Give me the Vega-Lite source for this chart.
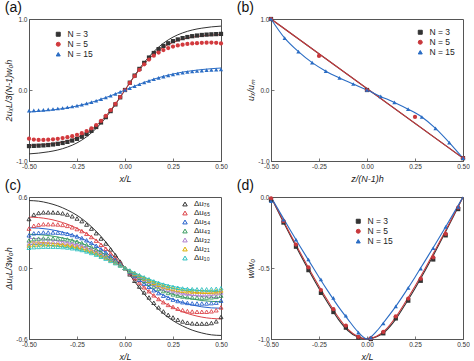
{
"$schema":"https://vega.github.io/schema/vega-lite/v6.json",
"padding":{"left":4,"top":0,"right":0,"bottom":0},
"background":"white",
"config":{
 "font":"Liberation Sans",
 "view":{"stroke":"#555","strokeWidth":1},
 "axis":{"grid":false,"domainColor":"#555","domainWidth":1,"tickColor":"#555","tickSize":-3,"tickWidth":0.8,"labelFontSize":6.5,"labelColor":"#333","labelPadding":5,"labelFlush":false,"labelOverlap":false,"titleFontSize":9,"titleFontStyle":"italic","titleFontWeight":"normal","titleColor":"#222"},
 "axisX":{"titlePadding":5},
 "axisY":{"titlePadding":2},
 "legend":{"labelFontSize":8.5,"labelFontWeight":"normal","labelColor":"#222","symbolSize":16,"rowPadding":1,"labelOffset":5,"padding":0,"symbolStrokeWidth":1},
 "title":{"fontSize":14,"fontWeight":"normal","anchor":"start","frame":"bounds","offset":1,"color":"#111"}
},
"bounds":"flush",
"columns":2,
"spacing":{"row":36,"column":50},
"resolve":{"scale":{"color":"independent","shape":"independent"},"legend":{"color":"independent","shape":"independent"}},
"datasets":{
"aM":[
{"s":"N = 3","x":-0.5,"y":-0.79},{"s":"N = 3","x":-0.475,"y":-0.787},{"s":"N = 3","x":-0.45,"y":-0.784},{"s":"N = 3","x":-0.425,"y":-0.78},{"s":"N = 3","x":-0.4,"y":-0.775},{"s":"N = 3","x":-0.375,"y":-0.767},{"s":"N = 3","x":-0.35,"y":-0.758},{"s":"N = 3","x":-0.325,"y":-0.746},{"s":"N = 3","x":-0.3,"y":-0.731},{"s":"N = 3","x":-0.275,"y":-0.712},{"s":"N = 3","x":-0.25,"y":-0.688},{"s":"N = 3","x":-0.225,"y":-0.658},{"s":"N = 3","x":-0.2,"y":-0.621},{"s":"N = 3","x":-0.175,"y":-0.576},{"s":"N = 3","x":-0.15,"y":-0.521},{"s":"N = 3","x":-0.125,"y":-0.457},{"s":"N = 3","x":-0.1,"y":-0.382},{"s":"N = 3","x":-0.075,"y":-0.297},{"s":"N = 3","x":-0.05,"y":-0.203},{"s":"N = 3","x":-0.025,"y":-0.103},{"s":"N = 3","x":0,"y":0},{"s":"N = 3","x":0.025,"y":0.103},{"s":"N = 3","x":0.05,"y":0.203},{"s":"N = 3","x":0.075,"y":0.297},{"s":"N = 3","x":0.1,"y":0.382},{"s":"N = 3","x":0.125,"y":0.457},{"s":"N = 3","x":0.15,"y":0.521},{"s":"N = 3","x":0.175,"y":0.576},{"s":"N = 3","x":0.2,"y":0.621},{"s":"N = 3","x":0.225,"y":0.658},{"s":"N = 3","x":0.25,"y":0.688},{"s":"N = 3","x":0.275,"y":0.712},{"s":"N = 3","x":0.3,"y":0.731},{"s":"N = 3","x":0.325,"y":0.746},{"s":"N = 3","x":0.35,"y":0.758},{"s":"N = 3","x":0.375,"y":0.767},{"s":"N = 3","x":0.4,"y":0.775},{"s":"N = 3","x":0.425,"y":0.78},{"s":"N = 3","x":0.45,"y":0.784},{"s":"N = 3","x":0.475,"y":0.787},{"s":"N = 3","x":0.5,"y":0.79},
{"s":"N = 5","x":-0.5,"y":-0.685},{"s":"N = 5","x":-0.475,"y":-0.698},{"s":"N = 5","x":-0.45,"y":-0.703},{"s":"N = 5","x":-0.425,"y":-0.703},{"s":"N = 5","x":-0.4,"y":-0.7},{"s":"N = 5","x":-0.375,"y":-0.695},{"s":"N = 5","x":-0.35,"y":-0.687},{"s":"N = 5","x":-0.325,"y":-0.677},{"s":"N = 5","x":-0.3,"y":-0.665},{"s":"N = 5","x":-0.275,"y":-0.65},{"s":"N = 5","x":-0.25,"y":-0.632},{"s":"N = 5","x":-0.225,"y":-0.608},{"s":"N = 5","x":-0.2,"y":-0.578},{"s":"N = 5","x":-0.175,"y":-0.54},{"s":"N = 5","x":-0.15,"y":-0.493},{"s":"N = 5","x":-0.125,"y":-0.435},{"s":"N = 5","x":-0.1,"y":-0.365},{"s":"N = 5","x":-0.075,"y":-0.285},{"s":"N = 5","x":-0.05,"y":-0.197},{"s":"N = 5","x":-0.025,"y":-0.1},{"s":"N = 5","x":0,"y":0},{"s":"N = 5","x":0.025,"y":0.1},{"s":"N = 5","x":0.05,"y":0.197},{"s":"N = 5","x":0.075,"y":0.285},{"s":"N = 5","x":0.1,"y":0.362},{"s":"N = 5","x":0.125,"y":0.429},{"s":"N = 5","x":0.15,"y":0.483},{"s":"N = 5","x":0.175,"y":0.528},{"s":"N = 5","x":0.2,"y":0.563},{"s":"N = 5","x":0.225,"y":0.59},{"s":"N = 5","x":0.25,"y":0.611},{"s":"N = 5","x":0.275,"y":0.627},{"s":"N = 5","x":0.3,"y":0.639},{"s":"N = 5","x":0.325,"y":0.648},{"s":"N = 5","x":0.35,"y":0.655},{"s":"N = 5","x":0.375,"y":0.66},{"s":"N = 5","x":0.4,"y":0.664},{"s":"N = 5","x":0.425,"y":0.667},{"s":"N = 5","x":0.45,"y":0.668},{"s":"N = 5","x":0.475,"y":0.664},{"s":"N = 5","x":0.5,"y":0.655},
{"s":"N = 15","x":-0.5,"y":-0.29},{"s":"N = 15","x":-0.475,"y":-0.287},{"s":"N = 15","x":-0.45,"y":-0.283},{"s":"N = 15","x":-0.425,"y":-0.279},{"s":"N = 15","x":-0.4,"y":-0.274},{"s":"N = 15","x":-0.375,"y":-0.268},{"s":"N = 15","x":-0.35,"y":-0.261},{"s":"N = 15","x":-0.325,"y":-0.253},{"s":"N = 15","x":-0.3,"y":-0.243},{"s":"N = 15","x":-0.275,"y":-0.232},{"s":"N = 15","x":-0.25,"y":-0.219},{"s":"N = 15","x":-0.225,"y":-0.205},{"s":"N = 15","x":-0.2,"y":-0.189},{"s":"N = 15","x":-0.175,"y":-0.171},{"s":"N = 15","x":-0.15,"y":-0.151},{"s":"N = 15","x":-0.125,"y":-0.129},{"s":"N = 15","x":-0.1,"y":-0.106},{"s":"N = 15","x":-0.075,"y":-0.081},{"s":"N = 15","x":-0.05,"y":-0.0545},{"s":"N = 15","x":-0.025,"y":-0.0275},{"s":"N = 15","x":0,"y":0},{"s":"N = 15","x":0.025,"y":0.0275},{"s":"N = 15","x":0.05,"y":0.0545},{"s":"N = 15","x":0.075,"y":0.081},{"s":"N = 15","x":0.1,"y":0.106},{"s":"N = 15","x":0.125,"y":0.129},{"s":"N = 15","x":0.15,"y":0.151},{"s":"N = 15","x":0.175,"y":0.171},{"s":"N = 15","x":0.2,"y":0.189},{"s":"N = 15","x":0.225,"y":0.205},{"s":"N = 15","x":0.25,"y":0.219},{"s":"N = 15","x":0.275,"y":0.232},{"s":"N = 15","x":0.3,"y":0.243},{"s":"N = 15","x":0.325,"y":0.253},{"s":"N = 15","x":0.35,"y":0.261},{"s":"N = 15","x":0.375,"y":0.268},{"s":"N = 15","x":0.4,"y":0.274},{"s":"N = 15","x":0.425,"y":0.279},{"s":"N = 15","x":0.45,"y":0.283},{"s":"N = 15","x":0.475,"y":0.287},{"s":"N = 15","x":0.5,"y":0.29}
],
"aL":[
{"s":"N = 3","x":-0.5,"y":-0.9},{"s":"N = 3","x":-0.45,"y":-0.889},{"s":"N = 3","x":-0.4,"y":-0.871},{"s":"N = 3","x":-0.35,"y":-0.845},{"s":"N = 3","x":-0.3,"y":-0.804},{"s":"N = 3","x":-0.25,"y":-0.745},{"s":"N = 3","x":-0.2,"y":-0.659},{"s":"N = 3","x":-0.15,"y":-0.541},{"s":"N = 3","x":-0.1,"y":-0.388},{"s":"N = 3","x":-0.05,"y":-0.204},{"s":"N = 3","x":0,"y":0},{"s":"N = 3","x":0.05,"y":0.204},{"s":"N = 3","x":0.1,"y":0.388},{"s":"N = 3","x":0.15,"y":0.541},{"s":"N = 3","x":0.2,"y":0.659},{"s":"N = 3","x":0.25,"y":0.745},{"s":"N = 3","x":0.3,"y":0.804},{"s":"N = 3","x":0.35,"y":0.845},{"s":"N = 3","x":0.4,"y":0.871},{"s":"N = 3","x":0.45,"y":0.889},{"s":"N = 3","x":0.5,"y":0.9},
{"s":"N = 5","x":-0.5,"y":-0.78},{"s":"N = 5","x":-0.45,"y":-0.773},{"s":"N = 5","x":-0.4,"y":-0.762},{"s":"N = 5","x":-0.35,"y":-0.744},{"s":"N = 5","x":-0.3,"y":-0.716},{"s":"N = 5","x":-0.25,"y":-0.671},{"s":"N = 5","x":-0.2,"y":-0.602},{"s":"N = 5","x":-0.15,"y":-0.502},{"s":"N = 5","x":-0.1,"y":-0.365},{"s":"N = 5","x":-0.05,"y":-0.194},{"s":"N = 5","x":0,"y":0},{"s":"N = 5","x":0.05,"y":0.194},{"s":"N = 5","x":0.1,"y":0.365},{"s":"N = 5","x":0.15,"y":0.502},{"s":"N = 5","x":0.2,"y":0.602},{"s":"N = 5","x":0.25,"y":0.671},{"s":"N = 5","x":0.3,"y":0.716},{"s":"N = 5","x":0.35,"y":0.744},{"s":"N = 5","x":0.4,"y":0.762},{"s":"N = 5","x":0.45,"y":0.773},{"s":"N = 5","x":0.5,"y":0.78},
{"s":"N = 15","x":-0.5,"y":-0.31},{"s":"N = 15","x":-0.45,"y":-0.3},{"s":"N = 15","x":-0.4,"y":-0.288},{"s":"N = 15","x":-0.35,"y":-0.272},{"s":"N = 15","x":-0.3,"y":-0.252},{"s":"N = 15","x":-0.25,"y":-0.225},{"s":"N = 15","x":-0.2,"y":-0.193},{"s":"N = 15","x":-0.15,"y":-0.153},{"s":"N = 15","x":-0.1,"y":-0.107},{"s":"N = 15","x":-0.05,"y":-0.055},{"s":"N = 15","x":0,"y":0},{"s":"N = 15","x":0.05,"y":0.055},{"s":"N = 15","x":0.1,"y":0.107},{"s":"N = 15","x":0.15,"y":0.153},{"s":"N = 15","x":0.2,"y":0.193},{"s":"N = 15","x":0.25,"y":0.225},{"s":"N = 15","x":0.3,"y":0.252},{"s":"N = 15","x":0.35,"y":0.272},{"s":"N = 15","x":0.4,"y":0.288},{"s":"N = 15","x":0.45,"y":0.3},{"s":"N = 15","x":0.5,"y":0.31}
],
"bM":[
{"s":"N = 3","x":-0.5,"y":1},{"s":"N = 3","x":0,"y":0},{"s":"N = 3","x":0.5,"y":-0.96},
{"s":"N = 5","x":-0.5,"y":1},{"s":"N = 5","x":-0.25,"y":0.48},{"s":"N = 5","x":0,"y":0},{"s":"N = 5","x":0.25,"y":-0.38},{"s":"N = 5","x":0.5,"y":-0.96},
{"s":"N = 15","x":-0.5,"y":1},{"s":"N = 15","x":-0.4286,"y":0.73},{"s":"N = 15","x":-0.3571,"y":0.54},{"s":"N = 15","x":-0.2857,"y":0.385},{"s":"N = 15","x":-0.2143,"y":0.265},{"s":"N = 15","x":-0.1429,"y":0.17},{"s":"N = 15","x":-0.0714,"y":0.085},{"s":"N = 15","x":0,"y":0},{"s":"N = 15","x":0.0714,"y":-0.09},{"s":"N = 15","x":0.1429,"y":-0.175},{"s":"N = 15","x":0.2143,"y":-0.27},{"s":"N = 15","x":0.2857,"y":-0.38},{"s":"N = 15","x":0.3571,"y":-0.54},{"s":"N = 15","x":0.4286,"y":-0.74},{"s":"N = 15","x":0.5,"y":-0.96}
],
"bL":[
{"s":"N = 3","x":-0.5,"y":1},{"s":"N = 3","x":0.5,"y":-0.96},
{"s":"N = 5","x":-0.5,"y":1},{"s":"N = 5","x":0.5,"y":-0.96},
{"s":"N = 15","x":-0.5,"y":1},{"s":"N = 15","x":-0.4286,"y":0.73},{"s":"N = 15","x":-0.3571,"y":0.54},{"s":"N = 15","x":-0.2857,"y":0.385},{"s":"N = 15","x":-0.2143,"y":0.265},{"s":"N = 15","x":-0.1429,"y":0.17},{"s":"N = 15","x":-0.0714,"y":0.085},{"s":"N = 15","x":0,"y":0},{"s":"N = 15","x":0.0714,"y":-0.09},{"s":"N = 15","x":0.1429,"y":-0.175},{"s":"N = 15","x":0.2143,"y":-0.27},{"s":"N = 15","x":0.2857,"y":-0.38},{"s":"N = 15","x":0.3571,"y":-0.54},{"s":"N = 15","x":0.4286,"y":-0.74},{"s":"N = 15","x":0.5,"y":-0.96}
],
"cM":[
{"s":"Δu₇₆","x":-0.5,"y":0.414},{"s":"Δu₇₆","x":-0.475,"y":0.451},{"s":"Δu₇₆","x":-0.45,"y":0.465},{"s":"Δu₇₆","x":-0.425,"y":0.47},{"s":"Δu₇₆","x":-0.4,"y":0.47},{"s":"Δu₇₆","x":-0.375,"y":0.47},{"s":"Δu₇₆","x":-0.35,"y":0.468},{"s":"Δu₇₆","x":-0.325,"y":0.462},{"s":"Δu₇₆","x":-0.3,"y":0.452},{"s":"Δu₇₆","x":-0.275,"y":0.437},{"s":"Δu₇₆","x":-0.25,"y":0.418},{"s":"Δu₇₆","x":-0.225,"y":0.396},{"s":"Δu₇₆","x":-0.2,"y":0.367},{"s":"Δu₇₆","x":-0.175,"y":0.333},{"s":"Δu₇₆","x":-0.15,"y":0.294},{"s":"Δu₇₆","x":-0.125,"y":0.249},{"s":"Δu₇₆","x":-0.1,"y":0.207},{"s":"Δu₇₆","x":-0.075,"y":0.157},{"s":"Δu₇₆","x":-0.05,"y":0.108},{"s":"Δu₇₆","x":-0.025,"y":0.054},{"s":"Δu₇₆","x":0,"y":0},{"s":"Δu₇₆","x":0.025,"y":-0.054},{"s":"Δu₇₆","x":0.05,"y":-0.108},{"s":"Δu₇₆","x":0.075,"y":-0.157},{"s":"Δu₇₆","x":0.1,"y":-0.207},{"s":"Δu₇₆","x":0.125,"y":-0.249},{"s":"Δu₇₆","x":0.15,"y":-0.294},{"s":"Δu₇₆","x":0.175,"y":-0.333},{"s":"Δu₇₆","x":0.2,"y":-0.367},{"s":"Δu₇₆","x":0.225,"y":-0.396},{"s":"Δu₇₆","x":0.25,"y":-0.418},{"s":"Δu₇₆","x":0.275,"y":-0.437},{"s":"Δu₇₆","x":0.3,"y":-0.452},{"s":"Δu₇₆","x":0.325,"y":-0.462},{"s":"Δu₇₆","x":0.35,"y":-0.468},{"s":"Δu₇₆","x":0.375,"y":-0.47},{"s":"Δu₇₆","x":0.4,"y":-0.47},{"s":"Δu₇₆","x":0.425,"y":-0.47},{"s":"Δu₇₆","x":0.45,"y":-0.465},{"s":"Δu₇₆","x":0.475,"y":-0.451},{"s":"Δu₇₆","x":0.5,"y":-0.414},
{"s":"Δu₆₅","x":-0.5,"y":0.333},{"s":"Δu₆₅","x":-0.475,"y":0.357},{"s":"Δu₆₅","x":-0.45,"y":0.366},{"s":"Δu₆₅","x":-0.425,"y":0.37},{"s":"Δu₆₅","x":-0.4,"y":0.37},{"s":"Δu₆₅","x":-0.375,"y":0.37},{"s":"Δu₆₅","x":-0.35,"y":0.368},{"s":"Δu₆₅","x":-0.325,"y":0.364},{"s":"Δu₆₅","x":-0.3,"y":0.356},{"s":"Δu₆₅","x":-0.275,"y":0.344},{"s":"Δu₆₅","x":-0.25,"y":0.329},{"s":"Δu₆₅","x":-0.225,"y":0.312},{"s":"Δu₆₅","x":-0.2,"y":0.289},{"s":"Δu₆₅","x":-0.175,"y":0.262},{"s":"Δu₆₅","x":-0.15,"y":0.231},{"s":"Δu₆₅","x":-0.125,"y":0.196},{"s":"Δu₆₅","x":-0.1,"y":0.163},{"s":"Δu₆₅","x":-0.075,"y":0.123},{"s":"Δu₆₅","x":-0.05,"y":0.085},{"s":"Δu₆₅","x":-0.025,"y":0.043},{"s":"Δu₆₅","x":0,"y":0},{"s":"Δu₆₅","x":0.025,"y":-0.043},{"s":"Δu₆₅","x":0.05,"y":-0.085},{"s":"Δu₆₅","x":0.075,"y":-0.123},{"s":"Δu₆₅","x":0.1,"y":-0.163},{"s":"Δu₆₅","x":0.125,"y":-0.196},{"s":"Δu₆₅","x":0.15,"y":-0.231},{"s":"Δu₆₅","x":0.175,"y":-0.262},{"s":"Δu₆₅","x":0.2,"y":-0.289},{"s":"Δu₆₅","x":0.225,"y":-0.312},{"s":"Δu₆₅","x":0.25,"y":-0.329},{"s":"Δu₆₅","x":0.275,"y":-0.344},{"s":"Δu₆₅","x":0.3,"y":-0.356},{"s":"Δu₆₅","x":0.325,"y":-0.364},{"s":"Δu₆₅","x":0.35,"y":-0.368},{"s":"Δu₆₅","x":0.375,"y":-0.37},{"s":"Δu₆₅","x":0.4,"y":-0.37},{"s":"Δu₆₅","x":0.425,"y":-0.37},{"s":"Δu₆₅","x":0.45,"y":-0.366},{"s":"Δu₆₅","x":0.475,"y":-0.357},{"s":"Δu₆₅","x":0.5,"y":-0.333},
{"s":"Δu₅₄","x":-0.5,"y":0.276},{"s":"Δu₅₄","x":-0.475,"y":0.293},{"s":"Δu₅₄","x":-0.45,"y":0.297},{"s":"Δu₅₄","x":-0.425,"y":0.3},{"s":"Δu₅₄","x":-0.4,"y":0.3},{"s":"Δu₅₄","x":-0.375,"y":0.3},{"s":"Δu₅₄","x":-0.35,"y":0.299},{"s":"Δu₅₄","x":-0.325,"y":0.295},{"s":"Δu₅₄","x":-0.3,"y":0.289},{"s":"Δu₅₄","x":-0.275,"y":0.279},{"s":"Δu₅₄","x":-0.25,"y":0.267},{"s":"Δu₅₄","x":-0.225,"y":0.253},{"s":"Δu₅₄","x":-0.2,"y":0.234},{"s":"Δu₅₄","x":-0.175,"y":0.212},{"s":"Δu₅₄","x":-0.15,"y":0.188},{"s":"Δu₅₄","x":-0.125,"y":0.159},{"s":"Δu₅₄","x":-0.1,"y":0.132},{"s":"Δu₅₄","x":-0.075,"y":0.1},{"s":"Δu₅₄","x":-0.05,"y":0.069},{"s":"Δu₅₄","x":-0.025,"y":0.035},{"s":"Δu₅₄","x":0,"y":0},{"s":"Δu₅₄","x":0.025,"y":-0.035},{"s":"Δu₅₄","x":0.05,"y":-0.069},{"s":"Δu₅₄","x":0.075,"y":-0.1},{"s":"Δu₅₄","x":0.1,"y":-0.132},{"s":"Δu₅₄","x":0.125,"y":-0.159},{"s":"Δu₅₄","x":0.15,"y":-0.188},{"s":"Δu₅₄","x":0.175,"y":-0.212},{"s":"Δu₅₄","x":0.2,"y":-0.234},{"s":"Δu₅₄","x":0.225,"y":-0.253},{"s":"Δu₅₄","x":0.25,"y":-0.267},{"s":"Δu₅₄","x":0.275,"y":-0.279},{"s":"Δu₅₄","x":0.3,"y":-0.289},{"s":"Δu₅₄","x":0.325,"y":-0.295},{"s":"Δu₅₄","x":0.35,"y":-0.299},{"s":"Δu₅₄","x":0.375,"y":-0.3},{"s":"Δu₅₄","x":0.4,"y":-0.3},{"s":"Δu₅₄","x":0.425,"y":-0.3},{"s":"Δu₅₄","x":0.45,"y":-0.297},{"s":"Δu₅₄","x":0.475,"y":-0.293},{"s":"Δu₅₄","x":0.5,"y":-0.276},
{"s":"Δu₄₃","x":-0.5,"y":0.233},{"s":"Δu₄₃","x":-0.475,"y":0.244},{"s":"Δu₄₃","x":-0.45,"y":0.248},{"s":"Δu₄₃","x":-0.425,"y":0.25},{"s":"Δu₄₃","x":-0.4,"y":0.25},{"s":"Δu₄₃","x":-0.375,"y":0.25},{"s":"Δu₄₃","x":-0.35,"y":0.249},{"s":"Δu₄₃","x":-0.325,"y":0.246},{"s":"Δu₄₃","x":-0.3,"y":0.241},{"s":"Δu₄₃","x":-0.275,"y":0.233},{"s":"Δu₄₃","x":-0.25,"y":0.223},{"s":"Δu₄₃","x":-0.225,"y":0.211},{"s":"Δu₄₃","x":-0.2,"y":0.195},{"s":"Δu₄₃","x":-0.175,"y":0.177},{"s":"Δu₄₃","x":-0.15,"y":0.156},{"s":"Δu₄₃","x":-0.125,"y":0.133},{"s":"Δu₄₃","x":-0.1,"y":0.11},{"s":"Δu₄₃","x":-0.075,"y":0.083},{"s":"Δu₄₃","x":-0.05,"y":0.058},{"s":"Δu₄₃","x":-0.025,"y":0.029},{"s":"Δu₄₃","x":0,"y":0},{"s":"Δu₄₃","x":0.025,"y":-0.029},{"s":"Δu₄₃","x":0.05,"y":-0.058},{"s":"Δu₄₃","x":0.075,"y":-0.083},{"s":"Δu₄₃","x":0.1,"y":-0.11},{"s":"Δu₄₃","x":0.125,"y":-0.133},{"s":"Δu₄₃","x":0.15,"y":-0.156},{"s":"Δu₄₃","x":0.175,"y":-0.177},{"s":"Δu₄₃","x":0.2,"y":-0.195},{"s":"Δu₄₃","x":0.225,"y":-0.211},{"s":"Δu₄₃","x":0.25,"y":-0.223},{"s":"Δu₄₃","x":0.275,"y":-0.233},{"s":"Δu₄₃","x":0.3,"y":-0.241},{"s":"Δu₄₃","x":0.325,"y":-0.246},{"s":"Δu₄₃","x":0.35,"y":-0.249},{"s":"Δu₄₃","x":0.375,"y":-0.25},{"s":"Δu₄₃","x":0.4,"y":-0.25},{"s":"Δu₄₃","x":0.425,"y":-0.25},{"s":"Δu₄₃","x":0.45,"y":-0.248},{"s":"Δu₄₃","x":0.475,"y":-0.244},{"s":"Δu₄₃","x":0.5,"y":-0.233},
{"s":"Δu₃₂","x":-0.5,"y":0.207},{"s":"Δu₃₂","x":-0.475,"y":0.215},{"s":"Δu₃₂","x":-0.45,"y":0.218},{"s":"Δu₃₂","x":-0.425,"y":0.22},{"s":"Δu₃₂","x":-0.4,"y":0.22},{"s":"Δu₃₂","x":-0.375,"y":0.22},{"s":"Δu₃₂","x":-0.35,"y":0.219},{"s":"Δu₃₂","x":-0.325,"y":0.216},{"s":"Δu₃₂","x":-0.3,"y":0.212},{"s":"Δu₃₂","x":-0.275,"y":0.205},{"s":"Δu₃₂","x":-0.25,"y":0.196},{"s":"Δu₃₂","x":-0.225,"y":0.185},{"s":"Δu₃₂","x":-0.2,"y":0.172},{"s":"Δu₃₂","x":-0.175,"y":0.156},{"s":"Δu₃₂","x":-0.15,"y":0.138},{"s":"Δu₃₂","x":-0.125,"y":0.117},{"s":"Δu₃₂","x":-0.1,"y":0.097},{"s":"Δu₃₂","x":-0.075,"y":0.073},{"s":"Δu₃₂","x":-0.05,"y":0.051},{"s":"Δu₃₂","x":-0.025,"y":0.025},{"s":"Δu₃₂","x":0,"y":0},{"s":"Δu₃₂","x":0.025,"y":-0.025},{"s":"Δu₃₂","x":0.05,"y":-0.051},{"s":"Δu₃₂","x":0.075,"y":-0.073},{"s":"Δu₃₂","x":0.1,"y":-0.097},{"s":"Δu₃₂","x":0.125,"y":-0.117},{"s":"Δu₃₂","x":0.15,"y":-0.138},{"s":"Δu₃₂","x":0.175,"y":-0.156},{"s":"Δu₃₂","x":0.2,"y":-0.172},{"s":"Δu₃₂","x":0.225,"y":-0.185},{"s":"Δu₃₂","x":0.25,"y":-0.196},{"s":"Δu₃₂","x":0.275,"y":-0.205},{"s":"Δu₃₂","x":0.3,"y":-0.212},{"s":"Δu₃₂","x":0.325,"y":-0.216},{"s":"Δu₃₂","x":0.35,"y":-0.219},{"s":"Δu₃₂","x":0.375,"y":-0.22},{"s":"Δu₃₂","x":0.4,"y":-0.22},{"s":"Δu₃₂","x":0.425,"y":-0.22},{"s":"Δu₃₂","x":0.45,"y":-0.218},{"s":"Δu₃₂","x":0.475,"y":-0.215},{"s":"Δu₃₂","x":0.5,"y":-0.207},
{"s":"Δu₂₁","x":-0.5,"y":0.19},{"s":"Δu₂₁","x":-0.475,"y":0.195},{"s":"Δu₂₁","x":-0.45,"y":0.198},{"s":"Δu₂₁","x":-0.425,"y":0.2},{"s":"Δu₂₁","x":-0.4,"y":0.2},{"s":"Δu₂₁","x":-0.375,"y":0.2},{"s":"Δu₂₁","x":-0.35,"y":0.199},{"s":"Δu₂₁","x":-0.325,"y":0.197},{"s":"Δu₂₁","x":-0.3,"y":0.192},{"s":"Δu₂₁","x":-0.275,"y":0.186},{"s":"Δu₂₁","x":-0.25,"y":0.178},{"s":"Δu₂₁","x":-0.225,"y":0.169},{"s":"Δu₂₁","x":-0.2,"y":0.156},{"s":"Δu₂₁","x":-0.175,"y":0.142},{"s":"Δu₂₁","x":-0.15,"y":0.125},{"s":"Δu₂₁","x":-0.125,"y":0.106},{"s":"Δu₂₁","x":-0.1,"y":0.088},{"s":"Δu₂₁","x":-0.075,"y":0.067},{"s":"Δu₂₁","x":-0.05,"y":0.046},{"s":"Δu₂₁","x":-0.025,"y":0.023},{"s":"Δu₂₁","x":0,"y":0},{"s":"Δu₂₁","x":0.025,"y":-0.023},{"s":"Δu₂₁","x":0.05,"y":-0.046},{"s":"Δu₂₁","x":0.075,"y":-0.067},{"s":"Δu₂₁","x":0.1,"y":-0.088},{"s":"Δu₂₁","x":0.125,"y":-0.106},{"s":"Δu₂₁","x":0.15,"y":-0.125},{"s":"Δu₂₁","x":0.175,"y":-0.142},{"s":"Δu₂₁","x":0.2,"y":-0.156},{"s":"Δu₂₁","x":0.225,"y":-0.169},{"s":"Δu₂₁","x":0.25,"y":-0.178},{"s":"Δu₂₁","x":0.275,"y":-0.186},{"s":"Δu₂₁","x":0.3,"y":-0.192},{"s":"Δu₂₁","x":0.325,"y":-0.197},{"s":"Δu₂₁","x":0.35,"y":-0.199},{"s":"Δu₂₁","x":0.375,"y":-0.2},{"s":"Δu₂₁","x":0.4,"y":-0.2},{"s":"Δu₂₁","x":0.425,"y":-0.2},{"s":"Δu₂₁","x":0.45,"y":-0.198},{"s":"Δu₂₁","x":0.475,"y":-0.195},{"s":"Δu₂₁","x":0.5,"y":-0.19},
{"s":"Δu₁₀","x":-0.5,"y":0.171},{"s":"Δu₁₀","x":-0.475,"y":0.176},{"s":"Δu₁₀","x":-0.45,"y":0.178},{"s":"Δu₁₀","x":-0.425,"y":0.18},{"s":"Δu₁₀","x":-0.4,"y":0.18},{"s":"Δu₁₀","x":-0.375,"y":0.18},{"s":"Δu₁₀","x":-0.35,"y":0.179},{"s":"Δu₁₀","x":-0.325,"y":0.177},{"s":"Δu₁₀","x":-0.3,"y":0.173},{"s":"Δu₁₀","x":-0.275,"y":0.167},{"s":"Δu₁₀","x":-0.25,"y":0.16},{"s":"Δu₁₀","x":-0.225,"y":0.152},{"s":"Δu₁₀","x":-0.2,"y":0.14},{"s":"Δu₁₀","x":-0.175,"y":0.127},{"s":"Δu₁₀","x":-0.15,"y":0.113},{"s":"Δu₁₀","x":-0.125,"y":0.095},{"s":"Δu₁₀","x":-0.1,"y":0.079},{"s":"Δu₁₀","x":-0.075,"y":0.06},{"s":"Δu₁₀","x":-0.05,"y":0.041},{"s":"Δu₁₀","x":-0.025,"y":0.021},{"s":"Δu₁₀","x":0,"y":0},{"s":"Δu₁₀","x":0.025,"y":-0.021},{"s":"Δu₁₀","x":0.05,"y":-0.041},{"s":"Δu₁₀","x":0.075,"y":-0.06},{"s":"Δu₁₀","x":0.1,"y":-0.079},{"s":"Δu₁₀","x":0.125,"y":-0.095},{"s":"Δu₁₀","x":0.15,"y":-0.113},{"s":"Δu₁₀","x":0.175,"y":-0.127},{"s":"Δu₁₀","x":0.2,"y":-0.14},{"s":"Δu₁₀","x":0.225,"y":-0.152},{"s":"Δu₁₀","x":0.25,"y":-0.16},{"s":"Δu₁₀","x":0.275,"y":-0.167},{"s":"Δu₁₀","x":0.3,"y":-0.173},{"s":"Δu₁₀","x":0.325,"y":-0.177},{"s":"Δu₁₀","x":0.35,"y":-0.179},{"s":"Δu₁₀","x":0.375,"y":-0.18},{"s":"Δu₁₀","x":0.4,"y":-0.18},{"s":"Δu₁₀","x":0.425,"y":-0.18},{"s":"Δu₁₀","x":0.45,"y":-0.178},{"s":"Δu₁₀","x":0.475,"y":-0.176},{"s":"Δu₁₀","x":0.5,"y":-0.171}
],
"cL":[
{"s":"Δu₇₆","x":-0.5,"y":0.57},{"s":"Δu₇₆","x":-0.45,"y":0.565},{"s":"Δu₇₆","x":-0.4,"y":0.549},{"s":"Δu₇₆","x":-0.35,"y":0.525},{"s":"Δu₇₆","x":-0.3,"y":0.49},{"s":"Δu₇₆","x":-0.25,"y":0.445},{"s":"Δu₇₆","x":-0.2,"y":0.385},{"s":"Δu₇₆","x":-0.15,"y":0.31},{"s":"Δu₇₆","x":-0.1,"y":0.22},{"s":"Δu₇₆","x":-0.05,"y":0.114},{"s":"Δu₇₆","x":0,"y":0},{"s":"Δu₇₆","x":0.05,"y":-0.114},{"s":"Δu₇₆","x":0.1,"y":-0.22},{"s":"Δu₇₆","x":0.15,"y":-0.31},{"s":"Δu₇₆","x":0.2,"y":-0.385},{"s":"Δu₇₆","x":0.25,"y":-0.445},{"s":"Δu₇₆","x":0.3,"y":-0.49},{"s":"Δu₇₆","x":0.35,"y":-0.525},{"s":"Δu₇₆","x":0.4,"y":-0.549},{"s":"Δu₇₆","x":0.45,"y":-0.565},{"s":"Δu₇₆","x":0.5,"y":-0.57},
{"s":"Δu₆₅","x":-0.5,"y":0.43},{"s":"Δu₆₅","x":-0.45,"y":0.426},{"s":"Δu₆₅","x":-0.4,"y":0.415},{"s":"Δu₆₅","x":-0.35,"y":0.396},{"s":"Δu₆₅","x":-0.3,"y":0.37},{"s":"Δu₆₅","x":-0.25,"y":0.335},{"s":"Δu₆₅","x":-0.2,"y":0.29},{"s":"Δu₆₅","x":-0.15,"y":0.234},{"s":"Δu₆₅","x":-0.1,"y":0.166},{"s":"Δu₆₅","x":-0.05,"y":0.086},{"s":"Δu₆₅","x":0,"y":0},{"s":"Δu₆₅","x":0.05,"y":-0.086},{"s":"Δu₆₅","x":0.1,"y":-0.166},{"s":"Δu₆₅","x":0.15,"y":-0.234},{"s":"Δu₆₅","x":0.2,"y":-0.29},{"s":"Δu₆₅","x":0.25,"y":-0.335},{"s":"Δu₆₅","x":0.3,"y":-0.37},{"s":"Δu₆₅","x":0.35,"y":-0.396},{"s":"Δu₆₅","x":0.4,"y":-0.415},{"s":"Δu₆₅","x":0.45,"y":-0.426},{"s":"Δu₆₅","x":0.5,"y":-0.43},
{"s":"Δu₅₄","x":-0.5,"y":0.34},{"s":"Δu₅₄","x":-0.45,"y":0.337},{"s":"Δu₅₄","x":-0.4,"y":0.328},{"s":"Δu₅₄","x":-0.35,"y":0.313},{"s":"Δu₅₄","x":-0.3,"y":0.292},{"s":"Δu₅₄","x":-0.25,"y":0.265},{"s":"Δu₅₄","x":-0.2,"y":0.23},{"s":"Δu₅₄","x":-0.15,"y":0.185},{"s":"Δu₅₄","x":-0.1,"y":0.131},{"s":"Δu₅₄","x":-0.05,"y":0.068},{"s":"Δu₅₄","x":0,"y":0},{"s":"Δu₅₄","x":0.05,"y":-0.068},{"s":"Δu₅₄","x":0.1,"y":-0.131},{"s":"Δu₅₄","x":0.15,"y":-0.185},{"s":"Δu₅₄","x":0.2,"y":-0.23},{"s":"Δu₅₄","x":0.25,"y":-0.265},{"s":"Δu₅₄","x":0.3,"y":-0.292},{"s":"Δu₅₄","x":0.35,"y":-0.313},{"s":"Δu₅₄","x":0.4,"y":-0.328},{"s":"Δu₅₄","x":0.45,"y":-0.337},{"s":"Δu₅₄","x":0.5,"y":-0.34},
{"s":"Δu₄₃","x":-0.5,"y":0.285},{"s":"Δu₄₃","x":-0.45,"y":0.282},{"s":"Δu₄₃","x":-0.4,"y":0.275},{"s":"Δu₄₃","x":-0.35,"y":0.262},{"s":"Δu₄₃","x":-0.3,"y":0.245},{"s":"Δu₄₃","x":-0.25,"y":0.222},{"s":"Δu₄₃","x":-0.2,"y":0.192},{"s":"Δu₄₃","x":-0.15,"y":0.155},{"s":"Δu₄₃","x":-0.1,"y":0.11},{"s":"Δu₄₃","x":-0.05,"y":0.057},{"s":"Δu₄₃","x":0,"y":0},{"s":"Δu₄₃","x":0.05,"y":-0.057},{"s":"Δu₄₃","x":0.1,"y":-0.11},{"s":"Δu₄₃","x":0.15,"y":-0.155},{"s":"Δu₄₃","x":0.2,"y":-0.192},{"s":"Δu₄₃","x":0.25,"y":-0.222},{"s":"Δu₄₃","x":0.3,"y":-0.245},{"s":"Δu₄₃","x":0.35,"y":-0.262},{"s":"Δu₄₃","x":0.4,"y":-0.275},{"s":"Δu₄₃","x":0.45,"y":-0.282},{"s":"Δu₄₃","x":0.5,"y":-0.285},
{"s":"Δu₃₂","x":-0.5,"y":0.25},{"s":"Δu₃₂","x":-0.45,"y":0.248},{"s":"Δu₃₂","x":-0.4,"y":0.241},{"s":"Δu₃₂","x":-0.35,"y":0.23},{"s":"Δu₃₂","x":-0.3,"y":0.215},{"s":"Δu₃₂","x":-0.25,"y":0.195},{"s":"Δu₃₂","x":-0.2,"y":0.169},{"s":"Δu₃₂","x":-0.15,"y":0.136},{"s":"Δu₃₂","x":-0.1,"y":0.097},{"s":"Δu₃₂","x":-0.05,"y":0.05},{"s":"Δu₃₂","x":0,"y":0},{"s":"Δu₃₂","x":0.05,"y":-0.05},{"s":"Δu₃₂","x":0.1,"y":-0.097},{"s":"Δu₃₂","x":0.15,"y":-0.136},{"s":"Δu₃₂","x":0.2,"y":-0.169},{"s":"Δu₃₂","x":0.25,"y":-0.195},{"s":"Δu₃₂","x":0.3,"y":-0.215},{"s":"Δu₃₂","x":0.35,"y":-0.23},{"s":"Δu₃₂","x":0.4,"y":-0.241},{"s":"Δu₃₂","x":0.45,"y":-0.248},{"s":"Δu₃₂","x":0.5,"y":-0.25},
{"s":"Δu₂₁","x":-0.5,"y":0.22},{"s":"Δu₂₁","x":-0.45,"y":0.218},{"s":"Δu₂₁","x":-0.4,"y":0.212},{"s":"Δu₂₁","x":-0.35,"y":0.203},{"s":"Δu₂₁","x":-0.3,"y":0.189},{"s":"Δu₂₁","x":-0.25,"y":0.172},{"s":"Δu₂₁","x":-0.2,"y":0.149},{"s":"Δu₂₁","x":-0.15,"y":0.12},{"s":"Δu₂₁","x":-0.1,"y":0.085},{"s":"Δu₂₁","x":-0.05,"y":0.044},{"s":"Δu₂₁","x":0,"y":0},{"s":"Δu₂₁","x":0.05,"y":-0.044},{"s":"Δu₂₁","x":0.1,"y":-0.085},{"s":"Δu₂₁","x":0.15,"y":-0.12},{"s":"Δu₂₁","x":0.2,"y":-0.149},{"s":"Δu₂₁","x":0.25,"y":-0.172},{"s":"Δu₂₁","x":0.3,"y":-0.189},{"s":"Δu₂₁","x":0.35,"y":-0.203},{"s":"Δu₂₁","x":0.4,"y":-0.212},{"s":"Δu₂₁","x":0.45,"y":-0.218},{"s":"Δu₂₁","x":0.5,"y":-0.22},
{"s":"Δu₁₀","x":-0.5,"y":0.2},{"s":"Δu₁₀","x":-0.45,"y":0.198},{"s":"Δu₁₀","x":-0.4,"y":0.193},{"s":"Δu₁₀","x":-0.35,"y":0.184},{"s":"Δu₁₀","x":-0.3,"y":0.172},{"s":"Δu₁₀","x":-0.25,"y":0.156},{"s":"Δu₁₀","x":-0.2,"y":0.135},{"s":"Δu₁₀","x":-0.15,"y":0.109},{"s":"Δu₁₀","x":-0.1,"y":0.077},{"s":"Δu₁₀","x":-0.05,"y":0.04},{"s":"Δu₁₀","x":0,"y":0},{"s":"Δu₁₀","x":0.05,"y":-0.04},{"s":"Δu₁₀","x":0.1,"y":-0.077},{"s":"Δu₁₀","x":0.15,"y":-0.109},{"s":"Δu₁₀","x":0.2,"y":-0.135},{"s":"Δu₁₀","x":0.25,"y":-0.156},{"s":"Δu₁₀","x":0.3,"y":-0.172},{"s":"Δu₁₀","x":0.35,"y":-0.184},{"s":"Δu₁₀","x":0.4,"y":-0.193},{"s":"Δu₁₀","x":0.45,"y":-0.198},{"s":"Δu₁₀","x":0.5,"y":-0.2}
],
"dM":[
{"s":"N = 3","x":-0.5,"y":-0.02},{"s":"N = 3","x":-0.435,"y":-0.18},{"s":"N = 3","x":-0.37,"y":-0.35},{"s":"N = 3","x":-0.305,"y":-0.515},{"s":"N = 3","x":-0.24,"y":-0.675},{"s":"N = 3","x":-0.175,"y":-0.81},{"s":"N = 3","x":-0.11,"y":-0.92},{"s":"N = 3","x":-0.045,"y":-0.99},{"s":"N = 3","x":0.02,"y":-1.0},{"s":"N = 3","x":0.085,"y":-0.96},{"s":"N = 3","x":0.15,"y":-0.855},{"s":"N = 3","x":0.215,"y":-0.73},{"s":"N = 3","x":0.28,"y":-0.59},{"s":"N = 3","x":0.345,"y":-0.44},{"s":"N = 3","x":0.41,"y":-0.27},{"s":"N = 3","x":0.475,"y":-0.085},
{"s":"N = 5","x":-0.5,"y":-0.01},{"s":"N = 5","x":-0.435,"y":-0.17},{"s":"N = 5","x":-0.37,"y":-0.335},{"s":"N = 5","x":-0.305,"y":-0.495},{"s":"N = 5","x":-0.24,"y":-0.655},{"s":"N = 5","x":-0.175,"y":-0.79},{"s":"N = 5","x":-0.11,"y":-0.905},{"s":"N = 5","x":-0.045,"y":-0.985},{"s":"N = 5","x":0.02,"y":-0.995},{"s":"N = 5","x":0.085,"y":-0.95},{"s":"N = 5","x":0.15,"y":-0.84},{"s":"N = 5","x":0.215,"y":-0.715},{"s":"N = 5","x":0.28,"y":-0.575},{"s":"N = 5","x":0.345,"y":-0.425},{"s":"N = 5","x":0.41,"y":-0.26},{"s":"N = 5","x":0.475,"y":-0.075},
{"s":"N = 15","x":-0.5,"y":-0.03},{"s":"N = 15","x":-0.435,"y":-0.16},{"s":"N = 15","x":-0.37,"y":-0.3},{"s":"N = 15","x":-0.305,"y":-0.44},{"s":"N = 15","x":-0.24,"y":-0.58},{"s":"N = 15","x":-0.175,"y":-0.71},{"s":"N = 15","x":-0.11,"y":-0.835},{"s":"N = 15","x":-0.045,"y":-0.955},{"s":"N = 15","x":0.02,"y":-0.99},{"s":"N = 15","x":0.085,"y":-0.89},{"s":"N = 15","x":0.15,"y":-0.77},{"s":"N = 15","x":0.215,"y":-0.64},{"s":"N = 15","x":0.28,"y":-0.505},{"s":"N = 15","x":0.345,"y":-0.36},{"s":"N = 15","x":0.41,"y":-0.21},{"s":"N = 15","x":0.475,"y":-0.07}
],
"dL":[
{"s":"N = 3","x":-0.5,"y":0},{"s":"N = 3","x":-0.45,"y":-0.137},{"s":"N = 3","x":-0.4,"y":-0.27},{"s":"N = 3","x":-0.35,"y":-0.4},{"s":"N = 3","x":-0.3,"y":-0.525},{"s":"N = 3","x":-0.25,"y":-0.645},{"s":"N = 3","x":-0.2,"y":-0.755},{"s":"N = 3","x":-0.15,"y":-0.86},{"s":"N = 3","x":-0.1,"y":-0.94},{"s":"N = 3","x":-0.05,"y":-0.985},{"s":"N = 3","x":0,"y":-1},{"s":"N = 3","x":0.05,"y":-0.985},{"s":"N = 3","x":0.1,"y":-0.94},{"s":"N = 3","x":0.15,"y":-0.86},{"s":"N = 3","x":0.2,"y":-0.755},{"s":"N = 3","x":0.25,"y":-0.645},{"s":"N = 3","x":0.3,"y":-0.525},{"s":"N = 3","x":0.35,"y":-0.4},{"s":"N = 3","x":0.4,"y":-0.27},{"s":"N = 3","x":0.45,"y":-0.137},{"s":"N = 3","x":0.5,"y":0},
{"s":"N = 5","x":-0.5,"y":0},{"s":"N = 5","x":-0.45,"y":-0.13},{"s":"N = 5","x":-0.4,"y":-0.26},{"s":"N = 5","x":-0.35,"y":-0.386},{"s":"N = 5","x":-0.3,"y":-0.51},{"s":"N = 5","x":-0.25,"y":-0.628},{"s":"N = 5","x":-0.2,"y":-0.74},{"s":"N = 5","x":-0.15,"y":-0.845},{"s":"N = 5","x":-0.1,"y":-0.93},{"s":"N = 5","x":-0.05,"y":-0.98},{"s":"N = 5","x":0,"y":-1},{"s":"N = 5","x":0.05,"y":-0.98},{"s":"N = 5","x":0.1,"y":-0.93},{"s":"N = 5","x":0.15,"y":-0.845},{"s":"N = 5","x":0.2,"y":-0.74},{"s":"N = 5","x":0.25,"y":-0.628},{"s":"N = 5","x":0.3,"y":-0.51},{"s":"N = 5","x":0.35,"y":-0.386},{"s":"N = 5","x":0.4,"y":-0.26},{"s":"N = 5","x":0.45,"y":-0.13},{"s":"N = 5","x":0.5,"y":0},
{"s":"N = 15","x":-0.5,"y":0},{"s":"N = 15","x":-0.45,"y":-0.117},{"s":"N = 15","x":-0.4,"y":-0.232},{"s":"N = 15","x":-0.35,"y":-0.345},{"s":"N = 15","x":-0.3,"y":-0.455},{"s":"N = 15","x":-0.25,"y":-0.565},{"s":"N = 15","x":-0.2,"y":-0.67},{"s":"N = 15","x":-0.15,"y":-0.77},{"s":"N = 15","x":-0.1,"y":-0.86},{"s":"N = 15","x":-0.05,"y":-0.945},{"s":"N = 15","x":0,"y":-1},{"s":"N = 15","x":0.05,"y":-0.945},{"s":"N = 15","x":0.1,"y":-0.86},{"s":"N = 15","x":0.15,"y":-0.77},{"s":"N = 15","x":0.2,"y":-0.67},{"s":"N = 15","x":0.25,"y":-0.565},{"s":"N = 15","x":0.3,"y":-0.455},{"s":"N = 15","x":0.35,"y":-0.345},{"s":"N = 15","x":0.4,"y":-0.232},{"s":"N = 15","x":0.45,"y":-0.117},{"s":"N = 15","x":0.5,"y":0}
]
},
"concat":[
{"title":"(a)","width":192,"height":142,
 "layer":[
  {"data":{"name":"aL"},"mark":{"type":"line","interpolate":"monotone","strokeWidth":1},
   "encoding":{
    "x":{"field":"x","type":"quantitative","scale":{"domain":[-0.5,0.5],"nice":false,"zero":false},"axis":{"values":[-0.5,-0.375,-0.25,-0.125,0,0.125,0.25,0.375,0.5],"labelExpr":"abs(datum.value*4-round(datum.value*4))<0.01 ? replace(format(datum.value,'.2f'),'−','-') : ''"},"title":"x/L"},
    "y":{"field":"y","type":"quantitative","scale":{"domain":[-1,1],"nice":false,"zero":false},"axis":{"values":[-1,-0.75,-0.5,-0.25,0,0.25,0.5,0.75,1],"labelExpr":"abs(datum.value*2-round(datum.value*2))<0.01 ? replace(format(datum.value,'.1f'),'−','-') : ''"},"title":"2uₓL/3(N-1)w₀h"},
    "color":{"field":"s","type":"nominal","scale":{"domain":["N = 3","N = 5","N = 15"],"range":["#333333","#d23a3e","#2a6cc4"]},"legend":{"title":null,"orient":"none","legendX":25,"legendY":11}}}},
  {"data":{"name":"aM"},"mark":{"type":"point","filled":true,"opacity":1,"size":18},
   "encoding":{
    "x":{"field":"x","type":"quantitative","title":"x/L"},
    "y":{"field":"y","type":"quantitative","title":"2uₓL/3(N-1)w₀h"},
    "color":{"field":"s","type":"nominal","legend":{"title":null,"orient":"none","legendX":25,"legendY":11}},
    "shape":{"field":"s","type":"nominal","scale":{"domain":["N = 3","N = 5","N = 15"],"range":["square","circle","triangle-up"]},"legend":{"title":null,"orient":"none","legendX":25,"legendY":11}}}}
 ]},
{"title":{"text":"(b)","dx":-10},"width":192,"height":142,
 "layer":[
  {"data":{"name":"bL"},"mark":{"type":"line","interpolate":"monotone","strokeWidth":1.1},
   "encoding":{
    "x":{"field":"x","type":"quantitative","scale":{"domain":[-0.5,0.5],"nice":false,"zero":false},"axis":{"values":[-0.5,-0.375,-0.25,-0.125,0,0.125,0.25,0.375,0.5],"labelExpr":"abs(datum.value*4-round(datum.value*4))<0.01 ? replace(format(datum.value,'.2f'),'−','-') : ''"},"title":"z/(N-1)h"},
    "y":{"field":"y","type":"quantitative","scale":{"domain":[-1,1],"nice":false,"zero":false},"axis":{"values":[-1,-0.75,-0.5,-0.25,0,0.25,0.5,0.75,1],"labelExpr":"abs(datum.value*2-round(datum.value*2))<0.01 ? replace(format(datum.value,'.1f'),'−','-') : ''"},"title":"uₓ/uₘ"},
    "color":{"field":"s","type":"nominal","scale":{"domain":["N = 3","N = 5","N = 15"],"range":["#333333","#c8383c","#2a6cc4"]},"legend":{"title":null,"orient":"none","legendX":145,"legendY":9}}}},
  {"data":{"name":"bM"},"mark":{"type":"point","filled":true,"opacity":1,"size":18},
   "encoding":{
    "x":{"field":"x","type":"quantitative","title":"z/(N-1)h"},
    "y":{"field":"y","type":"quantitative","title":"uₓ/uₘ"},
    "color":{"field":"s","type":"nominal","legend":{"title":null,"orient":"none","legendX":145,"legendY":9}},
    "shape":{"field":"s","type":"nominal","scale":{"domain":["N = 3","N = 5","N = 15"],"range":["square","circle","triangle-up"]},"legend":{"title":null,"orient":"none","legendX":145,"legendY":9}}}}
 ]},
{"title":"(c)","width":192,"height":142,
 "layer":[
  {"data":{"name":"cL"},"mark":{"type":"line","interpolate":"monotone","strokeWidth":1},
   "encoding":{
    "x":{"field":"x","type":"quantitative","scale":{"domain":[-0.5,0.5],"nice":false,"zero":false},"axis":{"values":[-0.5,-0.375,-0.25,-0.125,0,0.125,0.25,0.375,0.5],"labelExpr":"abs(datum.value*4-round(datum.value*4))<0.01 ? replace(format(datum.value,'.2f'),'−','-') : ''"},"title":"x/L"},
    "y":{"field":"y","type":"quantitative","scale":{"domain":[-0.6,0.6],"nice":false,"zero":false},"axis":{"values":[-0.6,-0.45,-0.3,-0.15,0,0.15,0.3,0.45,0.6],"labelExpr":"abs(datum.value/0.3-round(datum.value/0.3))<0.01 ? replace(format(datum.value,'.1f'),'−','-') : ''"},"title":"ΔuₓL/3w₀h"},
    "color":{"field":"s","type":"nominal","scale":{"domain":["Δu₇₆","Δu₆₅","Δu₅₄","Δu₄₃","Δu₃₂","Δu₂₁","Δu₁₀"],"range":["#333333","#dc4348","#2662cc","#3c9c62","#ae80cf","#dcb000","#2cc0c0"]},"legend":{"title":null,"orient":"none","legendX":152,"legendY":3,"symbolType":"triangle-up","symbolSize":20,"labelFontSize":8}}}},
  {"data":{"name":"cM"},"mark":{"type":"point","filled":false,"opacity":1,"size":16,"shape":"triangle-up","strokeWidth":0.9},
   "encoding":{
    "x":{"field":"x","type":"quantitative","title":"x/L"},
    "y":{"field":"y","type":"quantitative","title":"ΔuₓL/3w₀h"},
    "color":{"field":"s","type":"nominal","legend":{"title":null,"orient":"none","legendX":152,"legendY":3,"symbolType":"triangle-up","symbolSize":20,"labelFontSize":8}}}}
 ]},
{"title":{"text":"(d)","dx":-10},"width":192,"height":142,
 "layer":[
  {"data":{"name":"dL"},"mark":{"type":"line","interpolate":"monotone","strokeWidth":1.1},
   "encoding":{
    "x":{"field":"x","type":"quantitative","scale":{"domain":[-0.5,0.5],"nice":false,"zero":false},"axis":{"values":[-0.5,-0.375,-0.25,-0.125,0,0.125,0.25,0.375,0.5],"labelExpr":"abs(datum.value*4-round(datum.value*4))<0.01 ? replace(format(datum.value,'.2f'),'−','-') : ''"},"title":"x/L"},
    "y":{"field":"y","type":"quantitative","scale":{"domain":[-1,0],"nice":false,"zero":false},"axis":{"values":[-1,-0.75,-0.5,-0.25,0],"labelExpr":"abs(datum.value*2-round(datum.value*2))<0.01 ? replace(format(datum.value,'.1f'),'−','-') : ''"},"title":"w/w₀"},
    "color":{"field":"s","type":"nominal","scale":{"domain":["N = 3","N = 5","N = 15"],"range":["#333333","#c8383c","#2a6cc4"]},"legend":{"title":null,"orient":"none","legendX":83,"legendY":20}}}},
  {"data":{"name":"dM"},"mark":{"type":"point","filled":true,"opacity":1,"size":18},
   "encoding":{
    "x":{"field":"x","type":"quantitative","title":"x/L"},
    "y":{"field":"y","type":"quantitative","title":"w/w₀"},
    "color":{"field":"s","type":"nominal","legend":{"title":null,"orient":"none","legendX":83,"legendY":20}},
    "shape":{"field":"s","type":"nominal","scale":{"domain":["N = 3","N = 5","N = 15"],"range":["square","circle","triangle-up"]},"legend":{"title":null,"orient":"none","legendX":83,"legendY":20}}}}
 ]}
]
}
